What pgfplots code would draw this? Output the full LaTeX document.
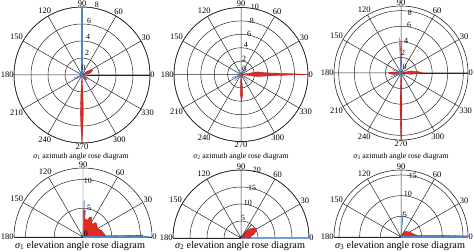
\documentclass[border=0pt]{standalone}
\usepackage{pgfplots}
\pgfplotsset{compat=1.18}
\usepgfplotslibrary{polar}
\usepackage{fontspec}
\setmainfont{Liberation Serif}
\definecolor{rosered}{RGB}{224,42,34}
\definecolor{rosedark}{RGB}{160,30,30}
\definecolor{roseblue}{RGB}{84,132,200}
\tikzset{rl/.style={font=\fontsize{8}{9}\selectfont, inner sep=0pt}}
\pgfplotsset{
  rose/.style={
    scale only axis,
    ymin=0,
    grid=major,
    major grid style={black!85, line width=0.5pt},
    axis line style={black!85, line width=0.6pt},
    major tick length=0pt,
    yticklabels={},
    xticklabel={\pgfmathprintnumber[assume math mode=true]{\tick}},
    xticklabel style={font=\fontsize{8.5}{9}\selectfont, inner sep=0.3pt},
    clip=false,
  },
  red petal/.style={fill=rosered, draw=rosedark, line width=0.3pt},
  blue ray/.style={roseblue, line width=1.1pt},
  thin ray/.style={roseblue, line width=0.6pt},
}
\begin{document}
\begin{tikzpicture}[x=1bp,y=1bp]
\path[use as bounding box] (0bp,0bp) rectangle (474bp,252bp);

% ---------- top 1: sigma1 azimuth ----------
\begin{polaraxis}[rose, at={(82bp,177bp)}, anchor=center, width=136bp, height=136bp,
  ymax=8, ytick={2,4,6,8}, xtick={0,30,...,330}]
\addplot[red petal] coordinates {(0,0) (266.5,2) (267.5,4.5) (269.3,7) (270,8) (270.6,7) (272,4.5) (273,2)} -- cycle;
\addplot[red petal] coordinates {(0,0) (12,1) (25,1.4) (36,0.8)} -- cycle;
\addplot[red petal] coordinates {(0,0) (300,0.5) (315,0.8) (330,0.4)} -- cycle;
\addplot[blue ray] coordinates {(0,0) (90,8)};
\addplot[thin ray] coordinates {(0,0) (150,0.8)};
\addplot[thin ray] coordinates {(0,0) (200,1.0)};
\addplot[thin ray] coordinates {(0,0) (215,0.8)};
\addplot[thin ray] coordinates {(0,0) (240,0.7)};
\addplot[thin ray] coordinates {(0,0) (300,0.7)};
\addplot[thin ray] coordinates {(0,0) (335,0.8)};
\addplot[thin ray] coordinates {(0,0) (0,0.6)};
\addplot[thin ray] coordinates {(0,0) (60,0.7)};
\addplot[thin ray] coordinates {(0,0) (120,0.6)};
\node[rl] at (axis cs:80,0.85) {0};
\node[rl] at (axis cs:77,2.66) {2};
\node[rl] at (axis cs:81,4.53) {4};
\node[rl] at (axis cs:82.6,6.41) {6};
\node[rl] at (axis cs:78,8.42) {8};
\end{polaraxis}

% ---------- top 2: sigma2 azimuth ----------
\begin{polaraxis}[rose, at={(241bp,177.5bp)}, anchor=center, width=134bp, height=134bp,
  ymax=10, ytick={2,4,6,8,10}, xtick={0,30,...,330}]
\addplot[thin ray] coordinates {(0,0) (0,10)};
\addplot[red petal] coordinates {(0,0) (353,2.5) (357,4) (359.3,7) (0,10) (1.2,7) (3.5,4) (9,2.5)} -- cycle;
\addplot[red petal] coordinates {(0,0) (267,1.5) (268.5,3) (271,4) (275,3) (277,1.5)} -- cycle;
\addplot[thin ray] coordinates {(0,0) (45,1.2)};
\addplot[thin ray] coordinates {(0,0) (110,0.8)};
\addplot[thin ray] coordinates {(0,0) (150,1.2)};
\addplot[thin ray] coordinates {(0,0) (200,1.4)};
\addplot[thin ray] coordinates {(0,0) (225,1.3)};
\addplot[thin ray] coordinates {(0,0) (315,1.4)};
\addplot[thin ray, dashed] coordinates {(295,1.5) (310,1.6) (325,1.5)};
\node[rl] at (axis cs:60,0.9) {0};
\node[rl] at (axis cs:79,2.4) {2};
\node[rl] at (axis cs:80.5,4.47) {4};
\node[rl] at (axis cs:78.7,6.2) {6};
\node[rl] at (axis cs:78.5,8.2) {8};
\node[rl] at (axis cs:78.4,10.25) {10};
\end{polaraxis}

% ---------- top 3: sigma3 azimuth ----------
\begin{polaraxis}[rose, at={(401bp,179bp)}, anchor=center, width=134bp, height=134bp,
  ymax=8.6, ytick={2,4,6,8}, xtick={0,30,...,330}]
\addplot[thin ray] coordinates {(0,0) (270,8.6)};
\addplot[red petal] coordinates {(0,0) (267.5,2) (268.5,4.5) (269.4,7) (270,8.6) (270.6,7) (271.5,4.5) (272.5,2)} -- cycle;
\addplot[red petal] coordinates {(0,0) (88,1.5) (89,3) (90,4.2) (91,3) (92,1.5)} -- cycle;
\addplot[thin ray] coordinates {(0,0) (93,4.6)};
\addplot[red petal] coordinates {(0,0) (352,1.2) (358,2.2) (0,2.8) (5,2.2) (12,1.2)} -- cycle;
\addplot[red petal] coordinates {(0,0) (170,0.8) (177,1.6) (184,1.5) (194,0.8)} -- cycle;
\addplot[thin ray] coordinates {(0,0) (200,1.5)};
\addplot[thin ray] coordinates {(0,0) (160,1.2)};
\addplot[thin ray] coordinates {(0,0) (330,1.2)};
\addplot[thin ray] coordinates {(0,0) (30,1.0)};
\addplot[thin ray] coordinates {(0,0) (120,0.8)};
\addplot[thin ray] coordinates {(0,0) (240,0.8)};
\node[rl] at (axis cs:60,0.9) {0};
\node[rl] at (axis cs:84,2.6) {2};
\node[rl] at (axis cs:81,4.15) {4};
\node[rl] at (axis cs:80.5,6.24) {6};
\node[rl] at (axis cs:81.5,7.78) {8};
\end{polaraxis}

% ---------- bottom 1: sigma1 elevation ----------
\begin{polaraxis}[rose, at={(83bp,15bp)}, anchor=south, width=138bp, height=138bp,
  xmin=0, xmax=180, ymax=12, ytick={5,10}, xtick={0,30,...,180}]
\addplot[red petal] coordinates {(0,0) (0,10.4) (1.8,10.4) (3,4) (12,3.6) (20,3.4) (28,3.0) (35,3.0) (43,3.3) (50,3.3) (52,2.8) (60,2.9) (66,3.8) (72,3.6) (74,3.1) (82,3.1) (84,3.0) (85,4.7) (90,4.7) (90,0)} -- cycle;
\addplot[blue ray] coordinates {(0,0) (0,11.5)};
\addplot[thin ray, line width=0.9pt] coordinates {(0,0) (88,6.4)};
\node[rl] at (axis cs:45,0.7) {0};
\node[rl] at (axis cs:78,5.15) {5};
\node[rl] at (axis cs:85,9.77) {10};
\end{polaraxis}

% ---------- bottom 2: sigma2 elevation ----------
\begin{polaraxis}[rose, at={(241bp,14bp)}, anchor=south, width=136bp, height=136bp,
  xmin=0, xmax=180, ymax=20, ytick={5,10,15,20}, xtick={0,30,...,180}]
\addplot[roseblue!80, line width=2pt] coordinates {(0,0) (0,20)};
\addplot[red petal] coordinates {(0,0) (0,3) (5,2.5) (15,3.8) (25,5) (32,5.4) (38,4.8) (45,3.8) (52,2.5) (58,1)} -- cycle;
\addplot[thin ray, black!60!roseblue] coordinates {(0,0) (52,5)};
\node[rl] at (axis cs:84,5.9) {5};
\node[rl] at (axis cs:79,10.5) {10};
\node[rl] at (axis cs:77.6,15.1) {15};
\node[rl] at (axis cs:76.8,20.5) {20};
\end{polaraxis}

% ---------- bottom 3: sigma3 elevation ----------
\begin{polaraxis}[rose, at={(401bp,15bp)}, anchor=south, width=134bp, height=134bp,
  xmin=0, xmax=180, ymax=16.2, ytick={5,10,15}, xtick={0,30,...,180}]
\addplot[red petal] coordinates {(0,0) (0,16.2) (0.9,16.2) (2,11) (3,8) (6,4) (12,3.2) (20,2.8) (35,2.2) (50,1.8) (60,1.4) (70,0.6)} -- cycle;
\addplot[blue ray] coordinates {(0,0) (0,16.2)};
\addplot[thin ray, line width=0.9pt] coordinates {(0,0) (85,6.1)};
\node[rl] at (axis cs:80,5.4) {5};
\node[rl] at (axis cs:81,10.5) {10};
\node[rl] at (axis cs:79,15) {15};
\end{polaraxis}

% ---------- captions ----------
\node[font=\fontsize{7.8}{9}\selectfont, anchor=base] at (81bp,93bp) {{\itshape σ}\textsubscript{1} azimuth angle rose diagram};
\node[font=\fontsize{7.8}{9}\selectfont, anchor=base] at (241bp,93bp) {{\itshape σ}\textsubscript{2} azimuth angle rose diagram};
\node[font=\fontsize{7.8}{9}\selectfont, anchor=base] at (401bp,93bp) {{\itshape σ}\textsubscript{3} azimuth angle rose diagram};
\node[font=\fontsize{10.3}{11}\selectfont, anchor=base] at (80bp,3.5bp) {{\itshape σ}\textsubscript{1} elevation angle rose diagram};
\node[font=\fontsize{10.3}{11}\selectfont, anchor=base] at (240bp,3.5bp) {{\itshape σ}\textsubscript{2} elevation angle rose diagram};
\node[font=\fontsize{10.3}{11}\selectfont, anchor=base] at (400bp,3.5bp) {{\itshape σ}\textsubscript{3} elevation angle rose diagram};
\end{tikzpicture}
\end{document}
